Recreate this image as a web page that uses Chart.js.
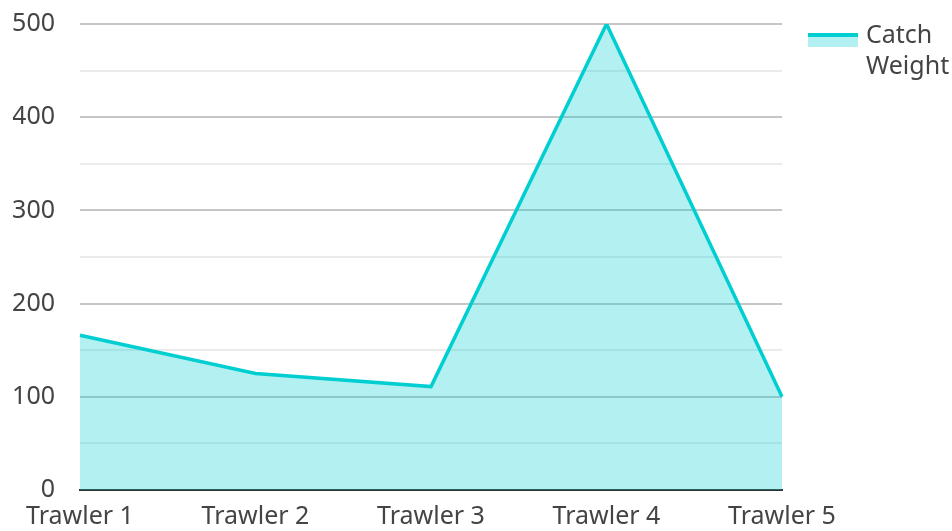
<!DOCTYPE html>
<html>
<head>
<meta charset="utf-8">
<script src="https://cdn.jsdelivr.net/npm/chart.js@4/dist/chart.umd.min.js"></script>
<style>
  html, body { margin: 0; padding: 0; background: #fff; }
  #wrap { width: 952px; height: 531px; }
</style>
</head>
<body>
<div id="wrap"><canvas id="c"></canvas></div>
<script>
const categories = ['Trawler 1', 'Trawler 2', 'Trawler 3', 'Trawler 4', 'Trawler 5'];
const catchWeight = [166, 125, 111, 500, 100];
const seriesLabel = ['Catch', 'Weight'];
const yTicks = [0, 100, 200, 300, 400, 500];

const LINE = '#00CED1';
const FILL = 'rgba(0, 206, 209, 0.3)';
const TEXT = '#444';
const FONT = '"Noto Sans", "Open Sans", sans-serif';
const SIZE = 25;

// Legend to the right of the plot: swatch (stroke over area fill) plus two-line label
const sideLegend = {
  id: 'sideLegend',
  afterDraw(chart) {
    const { ctx, chartArea } = chart;
    const x = chartArea.right + 26;
    const y = chartArea.top + 9;
    ctx.save();
    ctx.fillStyle = FILL;
    ctx.fillRect(x, y + 3, 50, 11);
    ctx.fillStyle = LINE;
    ctx.fillRect(x, y, 50, 4);
    ctx.fillStyle = TEXT;
    ctx.font = SIZE + 'px ' + FONT;
    ctx.textAlign = 'left';
    ctx.textBaseline = 'middle';
    seriesLabel.forEach((t, i) => ctx.fillText(t, x + 58, y + 3 + i * 31));
    ctx.restore();
  }
};

new Chart(document.getElementById('c'), {
  type: 'line',
  data: {
    labels: categories,
    datasets: [{
      label: seriesLabel.join(' '),
      data: catchWeight,
      borderColor: LINE,
      backgroundColor: FILL,
      borderWidth: 3.5,
      fill: 'origin',
      tension: 0,
      pointRadius: 0,
      pointHoverRadius: 0
    }]
  },
  plugins: [sideLegend],
  options: {
    responsive: true,
    maintainAspectRatio: false,
    animation: false,
    layout: { padding: { left: 13, top: 24, right: 170, bottom: 0 } },
    plugins: {
      tooltip: { enabled: false },
      legend: { display: false }
    },
    scales: {
      x: {
        offset: false,
        grid: { display: false, drawTicks: false },
        border: { display: true, color: '#333', width: 2 },
        ticks: {
          color: TEXT,
          font: { family: FONT, size: SIZE },
          padding: 12,
          maxRotation: 0,
          autoSkip: false
        },
        afterFit(s) {
          s.height = 41;
          s.paddingLeft = 0;
          s.paddingRight = 0;
        }
      },
      y: {
        min: 0,
        max: 500,
        grid: {
          drawTicks: false,
          lineWidth: 2,
          color: ctx => (ctx.tick && ctx.tick.value % 100 === 0) ? '#c6c6c6' : '#ebebeb'
        },
        border: { display: false },
        ticks: {
          stepSize: 50,
          color: TEXT,
          font: { family: FONT, size: SIZE },
          padding: 25,
          callback: v => yTicks.includes(v) ? String(v) : ''
        },
        afterFit(s) {
          s.width = 67;
          s.paddingTop = 0;
          s.paddingBottom = 0;
        }
      }
    }
  }
});
</script>
</body>
</html>
